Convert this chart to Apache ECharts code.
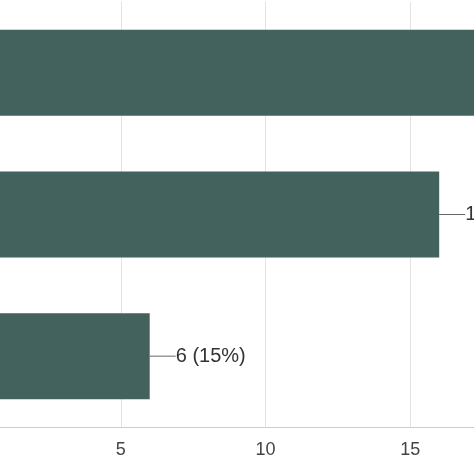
<!DOCTYPE html>
<html><head><meta charset="utf-8">
<script src="https://cdn.jsdelivr.net/npm/echarts@6/dist/echarts.min.js"></script>
<style>html,body{margin:0;padding:0;background:#fff;overflow:hidden;width:474px;height:474px;position:relative}#c{position:absolute;left:-32px;top:0;width:600px;height:474px}</style>
</head><body><div id="c"></div>
<script>
const categories = ['C', 'B', 'A'];
const values = [6, 16, 18];
const percents = ['15%', '40%', '45%'];
const chart = echarts.init(document.getElementById('c'));
chart.setOption({
  animation: false,
  grid: { left: 0, right: 0, top: 2, bottom: 47 },
  xAxis: {
    type: 'value', min: 0, max: 20, interval: 5,
    axisLine: { show: true, lineStyle: { color: '#ccc' } },
    axisTick: { show: false },
    splitLine: { lineStyle: { color: '#e3e3e3' } },
    axisLabel: { fontFamily: 'Arial, Liberation Sans', fontSize: 18, color: '#444', margin: 14 }
  },
  yAxis: {
    type: 'category', data: categories,
    axisLine: { show: false }, axisTick: { show: false }, axisLabel: { show: false }
  },
  series: [{
    type: 'bar', data: values, barWidth: 86,
    itemStyle: { color: '#44625d' },
    label: {
      show: true, position: 'right', distance: 2,
      formatter: p => p.value + ' (' + percents[p.dataIndex] + ')',
      fontFamily: 'Arial, Liberation Sans', fontSize: 20, color: '#333'
    },
    labelLayout: { dx: 24 },
    labelLine: { show: true, lineStyle: { color: '#666', width: 1 } }
  }]
});
</script></body></html>
